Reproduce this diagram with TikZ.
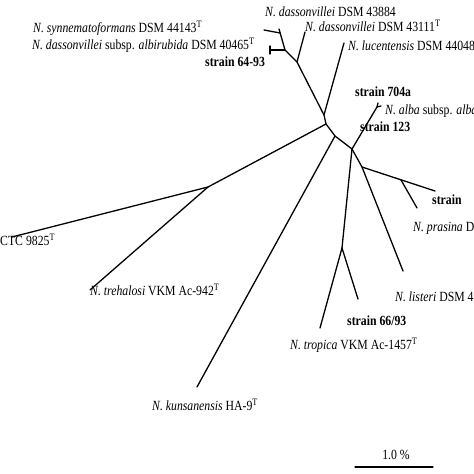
\documentclass[tikz,border=0pt]{standalone}
\usepackage{fontspec}
\setmainfont{Liberation Serif}[FakeStretch=0.84]
\begin{document}
\begin{tikzpicture}[x=1pt,y=-1pt,
  br/.style={line width=1.3pt, line cap=round, line join=round},
  lab/.style={anchor=west, inner sep=0pt, font=\fontsize{14}{16}\selectfont},
  blab/.style={lab, font=\fontsize{14}{16}\selectfont\bfseries}]
\useasboundingbox (0,0) rectangle (474,474);
% tree points
\coordinate (A) at (285,50);
\coordinate (B) at (280,33);
\coordinate (Btip) at (279,29);
\coordinate (synn) at (264,30);
\coordinate (albi) at (270,50);
\coordinate (albiT) at (270,46);
\coordinate (albiB) at (270,54);
\coordinate (n1) at (297,62);
\coordinate (d111) at (305,32);
\coordinate (n2) at (324,115);
\coordinate (luc) at (344,43);
\coordinate (n3) at (326,124);
\coordinate (L) at (208,187);
\coordinate (ctc) at (12,237);
\coordinate (treh) at (90,290);
\coordinate (n4) at (335,136);
\coordinate (kun) at (197,387);
\coordinate (n5) at (352,149);
\coordinate (alba) at (377,107);
\coordinate (albaA) at (378,103);
\coordinate (albaB) at (381,106);
\coordinate (n6) at (342,248);
\coordinate (trop) at (320,328);
\coordinate (s66) at (358,299);
\coordinate (n7) at (362,167);
\coordinate (list) at (403,271);
\coordinate (str) at (435,191);
\coordinate (n9) at (401,180);
\coordinate (pras) at (417,208);
\coordinate (sbL) at (355,467);
\coordinate (sbR) at (433,467);
% branches
\draw[br] (Btip) -- (A) -- (n1) -- (n2) -- (n3) -- (n4) -- (n5) -- (n6);
\draw[br] (B) -- (synn);
\draw[br] (A) -- (albi);
\draw[br] (albiT) -- (albiB);
\draw[br] (n1) -- (d111);
\draw[br] (n2) -- (luc);
\draw[br] (n3) -- (L);
\draw[br] (L) -- (ctc);
\draw[br] (L) -- (treh);
\draw[br] (n4) -- (kun);
\draw[br] (n5) -- (alba) -- (albaA);
\draw[br] (alba) -- (albaB);
\draw[br] (n6) -- (trop);
\draw[br] (n6) -- (s66);
\draw[br] (n5) -- (n7) -- (list);
\draw[br] (n7) -- (str);
\draw[br] (n9) -- (pras);
\draw[br] (sbL) -- (sbR);
% labels
\node[lab] (t1) at (33,28) {\textit{N. synnematoformans} DSM 44143\textsuperscript{T}};
\node[lab] (t2) at (32,45) {\textit{N. dassonvillei} subsp. \textit{albirubida} DSM 40465\textsuperscript{T}};
\node[blab] (t3) at (205,62) {strain 64-93};
\node[lab] (t4) at (265,12) {\textit{N. dassonvillei} DSM 43884};
\node[lab] (t5) at (305,26) {\textit{N. dassonvillei} DSM 43111\textsuperscript{T}};
\node[lab] (t6) at (348,45) {\textit{N. lucentensis} DSM 44048\textsuperscript{T}};
\node[blab] (t7) at (355,92) {strain 704a};
\node[lab] (t8) at (385,110) {\textit{N. alba} subsp. \textit{alba} DSM 43377\textsuperscript{T}};
\node[blab] (t9) at (360,127) {strain 123};
\node[blab] (t10) at (432,200) {strain};
\node[lab] (t11) at (413,227) {\textit{N. prasina} DSM 43845\textsuperscript{T}};
\node[lab] (t12) at (0,240) {CTC 9825\textsuperscript{T}};
\node[lab] (t13) at (90,290) {\textit{N. trehalosi} VKM Ac-942\textsuperscript{T}};
\node[lab] (t14) at (395,296) {\textit{N. listeri} DSM 40297\textsuperscript{T}};
\node[blab] (t15) at (347,321) {strain 66/93};
\node[lab] (t16) at (290,345) {\textit{N. tropica} VKM Ac-1457\textsuperscript{T}};
\node[lab] (t17) at (152,405) {\textit{N. kunsanensis} HA-9\textsuperscript{T}};
\node[inner sep=0pt, font=\fontsize{14}{16}\selectfont] (t18) at (396,455) {1.0 \%};
\end{tikzpicture}
\end{document}
